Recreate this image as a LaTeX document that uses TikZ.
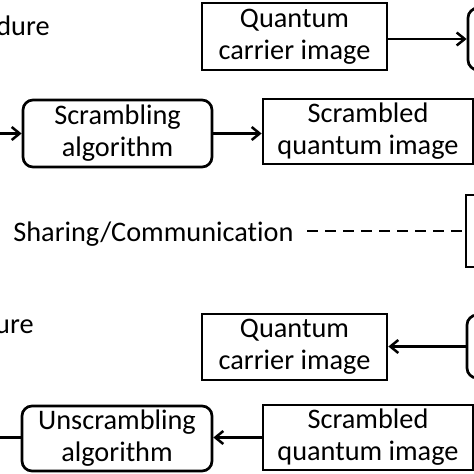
\documentclass[tikz,border=0pt]{standalone}
\usepackage{fontspec}
\setmainfont{Carlito}[Ligatures=NoCommon]
\usetikzlibrary{arrows.meta}
\begin{document}
\begin{tikzpicture}[x=1pt,y=-1pt, line width=2.7pt,
  txt/.style={font=\fontsize{28.3}{32}\selectfont},
  box/.style={draw, rectangle, inner sep=0pt, align=center, txt},
  rbox/.style={box, rounded corners=10pt},
  arr/.style={-{Straight Barb[length=8pt,width=13pt,line width=2.5pt]}},
  sharedash/.style={dash pattern=on 11pt off 7pt},
  lbl/.style={inner sep=0pt, txt}]
\useasboundingbox (0,0) rectangle (474,474);
\fill[white] (0,0) rectangle (474,474);
\clip (0,0) rectangle (474,474);
% encryption part
\node[lbl, anchor=base east] (t1) at (51,35) {dure};
\node[box, minimum width=185pt, minimum height=67pt] (qc1) at (294.5,36.5) {Quantum\\carrier image};
\node[rbox, minimum width=100pt, minimum height=62pt] (r1) at (518,39) {};
\draw[arr] (qc1.east |- r1.west) -- (r1.west);
\coordinate (in1) at (-5,133.5);
\node[rbox, minimum width=189pt, minimum height=67pt] (sa) at (117.5,133.5) {Scrambling\\algorithm};
\node[box, minimum width=210pt, minimum height=65pt] (sq1) at (368,131.5) {Scrambled\\quantum image};
\draw[arr] (in1) -- (sa.west);
\draw[arr] (sa.east) -- (sa.east -| sq1.west);
% sharing
\node[lbl, anchor=base west] (sc) at (12,241) {Sharing/Communication};
\node[box, minimum width=100pt, minimum height=72pt] (sh) at (516,231) {};
\coordinate (d0) at (307,231);
\draw[sharedash] (d0) -- (sh.west);
% decryption part
\node[lbl, anchor=base east] (t2) at (35,333) {ure};
\node[box, minimum width=185pt, minimum height=66pt] (qc2) at (294.5,347) {Quantum\\carrier image};
\node[rbox, minimum width=100pt, minimum height=63pt] (r2) at (517,346.5) {};
\draw[arr] (r2.west) -- (qc2.east |- r2.west);
\node[rbox, minimum width=190pt, minimum height=65pt] (ua) at (117,438.5) {Unscrambling\\algorithm};
\node[box, minimum width=210pt, minimum height=65pt] (sq2) at (368,437.5) {Scrambled\\quantum image};
\draw[arr] (sq2.west) -- (ua.east |- sq2.west);
\coordinate (out2) at (-5,437.5);
\draw (ua.west |- out2) -- (out2);
\end{tikzpicture}
\end{document}
